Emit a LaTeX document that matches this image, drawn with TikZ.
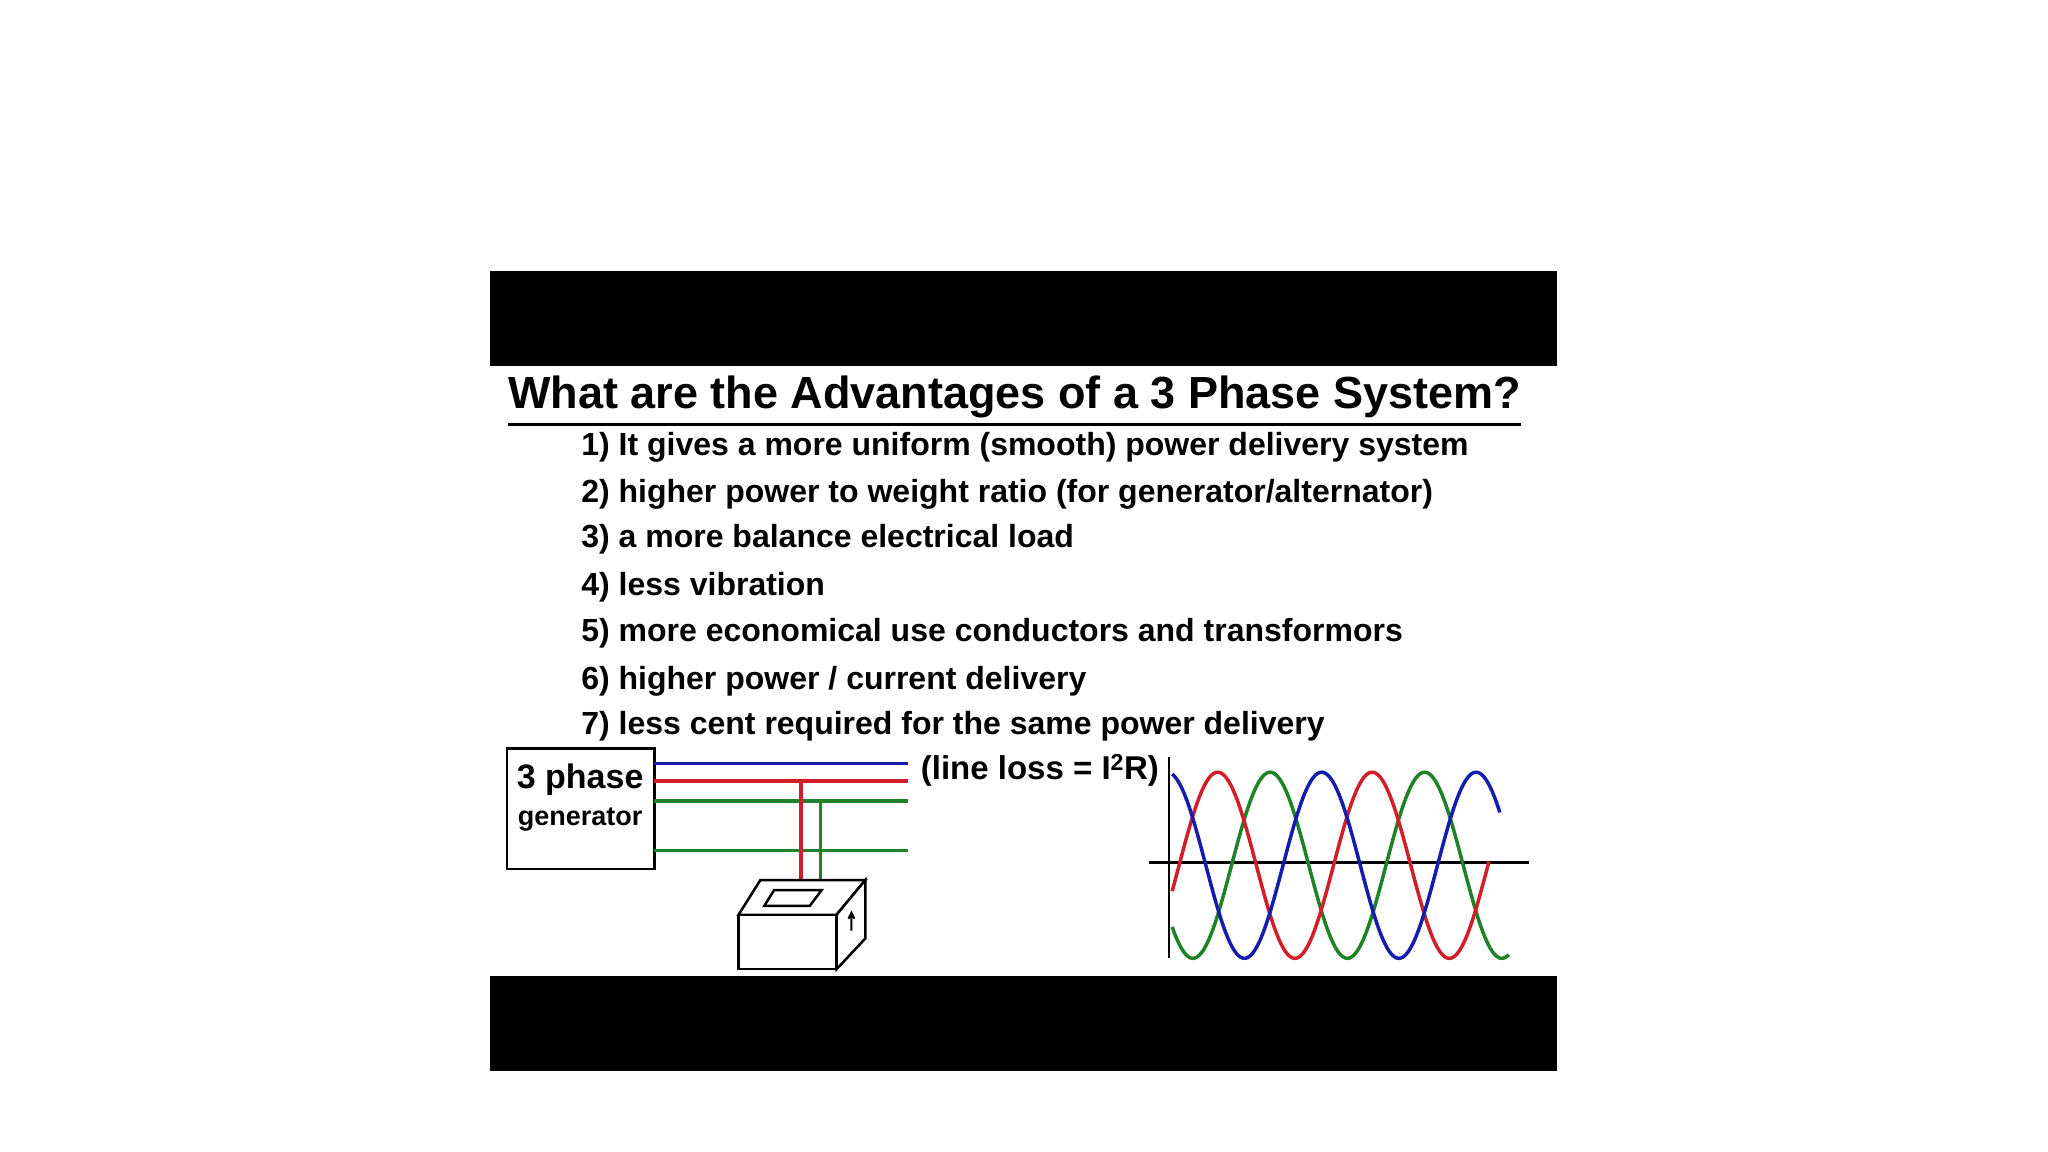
\documentclass[tikz,border=0pt]{standalone}
\usepackage{fontspec}
\setmainfont{Liberation Sans}
\definecolor{wblue}{RGB}{20,30,170}
\definecolor{wred}{RGB}{210,30,40}
\definecolor{wgreen}{RGB}{30,130,40}
\begin{document}
\begin{tikzpicture}[x=0.99pt,y=-0.99pt,
  item/.style={anchor=west,inner sep=0pt,font=\fontsize{32}{32}\selectfont\bfseries},
  wire/.style={line width=3.5pt},
  wave/.style={line width=3.5pt,samples=200}]
\useasboundingbox (0,0) rectangle (2068.7,1163.6);
\fill[white] (0,0) rectangle (2068.7,1163.6);
\fill[black] (495,274) rectangle (1573,370);
\fill[black] (495,986) rectangle (1573,1082);
\node[inner sep=0pt,font=\fontsize{45}{45}\selectfont\bfseries] (title) at (1025,401) {What are the Advantages of a 3 Phase System?};
\draw[line width=3pt] ([yshift=-6pt]title.south west) -- ([yshift=-6pt]title.south east);
\node[item] (i1) at (587,452) {1) It gives a more uniform (smooth) power delivery system};
\node[item] (i2) at (587,499) {2) higher power to weight ratio (for generator/alternator)};
\node[item] (i3) at (587,545) {3) a more balance electrical load};
\node[item] (i4) at (587,593) {4) less vibration};
\node[item] (i5) at (587,640) {5) more economical use conductors and transformors};
\node[item] (i6) at (587,688) {6) higher power / current delivery};
\node[item] (i7) at (587,734) {7) less cent required for the same power delivery};
% generator
\draw[line width=2.5pt] (512,756) rectangle (661,878);
\node[inner sep=0pt,font=\fontsize{34}{34}\selectfont\bfseries] (g1) at (586,788) {3 phase};
\node[inner sep=0pt,font=\fontsize{27}{27}\selectfont\bfseries] (g2) at (586,828) {generator};
\coordinate (b0) at (661,771); \coordinate (b1) at (917,771);
\coordinate (r0) at (661,789); \coordinate (r1) at (917,789);
\coordinate (g0) at (661,809); \coordinate (g1e) at (917,809);
\coordinate (h0) at (661,859); \coordinate (h1) at (917,859);
\draw[wire,wblue] (b0) -- (b1);
\draw[wire,wred] (r0) -- (r1);
\draw[wire,wgreen] (g0) -- (g1e);
\draw[wire,wgreen] (h0) -- (h1);
\draw[wire,wred] (809,789) -- (809,889);
\draw[wire,wgreen] (829,809) -- (829,889);
% load box
\draw[line width=2.5pt,fill=white] (746,924) -- (768,889) -- (874,889) -- (845,924) -- cycle;
\draw[line width=2.5pt,fill=white] (746,924) rectangle (845,979);
\draw[line width=2.5pt,fill=white] (845,924) -- (874,889) -- (874,948) -- (845,979) -- cycle;
\draw[line width=2.5pt] (772,915) -- (782,899) -- (830,899) -- (818,915) -- cycle;
\draw[line width=2pt] (860,940) -- (860,922) (857,928) -- (860,922) -- (863,928);
\node[inner sep=0pt,anchor=west,font=\fontsize{33}{33}\selectfont\bfseries] (ll) at (930,778) {(line loss = I\textsuperscript{2}R)};
% graph
\draw[line width=2.5pt] (1181,765) -- (1181,968);
\draw[line width=2.5pt] (1161,871) -- (1544,871);
\draw[wave,wgreen,domain=0:340] plot ({1184+\x},{874-94*cos(2.3077*(\x-99))});
\draw[wave,wred,domain=0:320] plot ({1184+\x},{874-94*cos(2.3077*(\x-46))});
\draw[wave,wblue,domain=0:331] plot ({1184+\x},{874-94*cos(2.3077*(\x-151))});
\end{tikzpicture}
\end{document}
